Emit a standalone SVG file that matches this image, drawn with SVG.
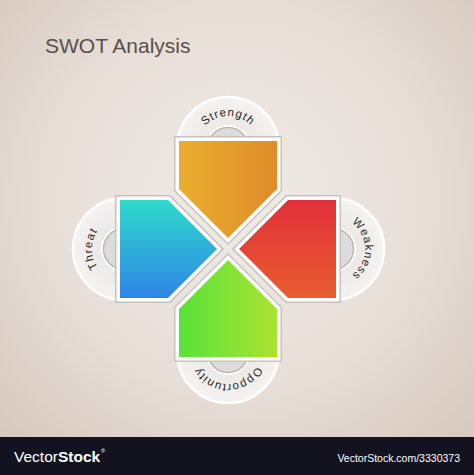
<svg xmlns="http://www.w3.org/2000/svg" width="474" height="475" viewBox="0 0 474 475">
  <defs>
    <radialGradient id="bg" cx="50%" cy="42%" r="72%">
      <stop offset="0" stop-color="#f0ebe7"/>
      <stop offset="0.55" stop-color="#e7ded7"/>
      <stop offset="1" stop-color="#d5c7bd"/>
    </radialGradient>
    <linearGradient id="gS" x1="0" y1="0" x2="1" y2="0">
      <stop offset="0" stop-color="#eaad2e"/>
      <stop offset="1" stop-color="#df8d2b"/>
    </linearGradient>
    <linearGradient id="gT" x1="0" y1="0" x2="0" y2="1">
      <stop offset="0" stop-color="#2fdacb"/>
      <stop offset="1" stop-color="#2f84e6"/>
    </linearGradient>
    <linearGradient id="gW" x1="0" y1="0" x2="0" y2="1">
      <stop offset="0" stop-color="#e22f3a"/>
      <stop offset="1" stop-color="#e85d2f"/>
    </linearGradient>
    <linearGradient id="gO" x1="0" y1="0" x2="1" y2="0">
      <stop offset="0" stop-color="#58e23a"/>
      <stop offset="1" stop-color="#ace231"/>
    </linearGradient>
    <radialGradient id="disc" cx="50%" cy="50%" r="50%">
      <stop offset="0.4" stop-color="#ebe8e5"/>
      <stop offset="1" stop-color="#f5f3f1"/>
    </radialGradient>
    <polygon id="pS" points="179,141 277,141 277,189 228,238 179,189"/>
    <polygon id="pT" points="120,200 168,200 217,249 168,298 120,298"/>
    <polygon id="pW" points="336,200 336,298 288,298 239,249 288,200"/>
    <polygon id="pO" points="179,357 179,309 228,260 277,309 277,357"/>
    <path id="arcS" d="M228,180 A32,32 0 1 1 228,116 A32,32 0 1 1 228,180"/>
    <path id="arcT" d="M156,249 A32,32 0 1 1 92,249 A32,32 0 1 1 156,249"/>
    <path id="arcW" d="M301,249 A32,32 0 1 1 365,249 A32,32 0 1 1 301,249"/>
    <path id="arcO" d="M228,320 A32,32 0 1 1 228,384 A32,32 0 1 1 228,320"/>
  </defs>
  <style>
    .disc { fill: url(#disc); stroke: #ffffff; stroke-width: 2.5; }
    .ring { fill: #ffffff; }
    .hole { fill: #dedcdb; stroke: #b9b7b6; stroke-width: 1.5; }
    .shadow { fill: #cfcac6; stroke: #c6c1bd; stroke-width: 10; stroke-linejoin: miter; }
    .border { fill: #ffffff; stroke: #ffffff; stroke-width: 7; stroke-linejoin: miter; }
    .lbl { font-family: "Liberation Sans", Arial, sans-serif; font-size: 11.5px; letter-spacing: 1px; fill: #2e2a28; }
    .title { font-family: "Liberation Sans", Arial, sans-serif; font-size: 21px; fill: #5a4e4a; }
    .foot { font-family: "Liberation Sans", Arial, sans-serif; fill: #ffffff; }
  </style>

  <rect x="0" y="0" width="474" height="475" fill="url(#bg)"/>
  <text class="title" x="45" y="53">SWOT Analysis</text>

  <g id="strength">
    <circle class="disc" cx="228" cy="148" r="51"/>
    <circle class="ring" cx="228" cy="148" r="23"/>
    <circle class="hole" cx="228" cy="148" r="20.5"/>
    <text class="lbl"><textPath href="#arcS" startOffset="50%" text-anchor="middle">Strength</textPath></text>
  </g>
  <g id="threat">
    <circle class="disc" cx="124" cy="249" r="51"/>
    <circle class="ring" cx="124" cy="249" r="23"/>
    <circle class="hole" cx="124" cy="249" r="20.5"/>
    <text class="lbl"><textPath href="#arcT" startOffset="50%" text-anchor="middle">Threat</textPath></text>
  </g>
  <g id="weakness">
    <circle class="disc" cx="333" cy="249" r="51"/>
    <circle class="ring" cx="333" cy="249" r="23"/>
    <circle class="hole" cx="333" cy="249" r="20.5"/>
    <text class="lbl"><textPath href="#arcW" startOffset="50%" text-anchor="middle">Weakness</textPath></text>
  </g>
  <g id="opportunity">
    <circle class="disc" cx="228" cy="352" r="51"/>
    <circle class="ring" cx="228" cy="352" r="23"/>
    <circle class="hole" cx="228" cy="352" r="20.5"/>
    <text class="lbl"><textPath href="#arcO" startOffset="50%" text-anchor="middle">Opportunity</textPath></text>
  </g>

  <g id="shapes">
    <use href="#pS" class="shadow"/>
    <use href="#pT" class="shadow"/>
    <use href="#pW" class="shadow"/>
    <use href="#pO" class="shadow"/>
    <use href="#pS" class="border"/>
    <use href="#pT" class="border"/>
    <use href="#pW" class="border"/>
    <use href="#pO" class="border"/>
    <use href="#pS" fill="url(#gS)"/>
    <use href="#pT" fill="url(#gT)"/>
    <use href="#pW" fill="url(#gW)"/>
    <use href="#pO" fill="url(#gO)"/>
  </g>

  <g id="connectors"/>

  <g id="footer">
    <rect x="0" y="437" width="474" height="38" fill="#13131f"/>
    <text class="foot" x="14" y="462" font-size="15.5">Vector<tspan font-weight="bold">Stock</tspan></text>
    <text class="foot" x="101" y="453" font-size="5.5">®</text>
    <text class="foot" x="460" y="462" font-size="10.5" text-anchor="end">VectorStock.com/3330373</text>
  </g>
</svg>
